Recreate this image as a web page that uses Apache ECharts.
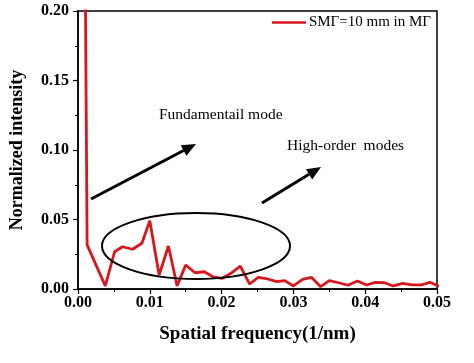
<!DOCTYPE html>
<html>
<head>
<meta charset="utf-8">
<script src="https://cdn.jsdelivr.net/npm/echarts@6/dist/echarts.min.js"></script>
<style>
    html, body { margin: 0; padding: 0; background: #fff; }
    #main { width: 474px; height: 363px; }
</style>
</head>
<body>
<div id="main"></div>
<script>
// values
var seriesName = 'SMΓ=10 mm in MΓ';
var freq = [0, 0.00127, 0.0038, 0.0051, 0.0062, 0.0076, 0.0089, 0.0100, 0.0113, 0.0126,
    0.0138, 0.0150, 0.0163, 0.0176, 0.0188, 0.0201, 0.0213, 0.0226, 0.0239, 0.0251,
    0.0264, 0.0277, 0.0288, 0.0300, 0.0313, 0.0325, 0.0338, 0.0350, 0.0363, 0.0376,
    0.0389, 0.0402, 0.0414, 0.0427, 0.0439, 0.0452, 0.0465, 0.0478, 0.0490, 0.0503];
var intensity = [1.0, 0.0317, 0.0022, 0.0268, 0.0304, 0.0286, 0.0329, 0.0491, 0.0101, 0.0309,
    0.0022, 0.0173, 0.0117, 0.0124, 0.0088, 0.0077, 0.0113, 0.0165, 0.0036, 0.0084,
    0.0072, 0.0053, 0.0060, 0.0022, 0.0070, 0.0084, 0.0017, 0.0060, 0.0045, 0.0027,
    0.0058, 0.0029, 0.0048, 0.0045, 0.0022, 0.0041, 0.0029, 0.0029, 0.0048, 0.0020];
var xTicks = ['0.00', '0.01', '0.02', '0.03', '0.04', '0.05'];
var yTicks = ['0.00', '0.05', '0.10', '0.15', '0.20'];

var serif = 'Liberation Serif';

// 箭头 (直线 + 三角形头)
function arrow(x1, y1, x2, y2) {
    var dx = x2 - x1, dy = y2 - y1;
    var len = Math.sqrt(dx * dx + dy * dy);
    var ux = dx / len, uy = dy / len;
    var hl = 14, hw = 6;
    var bx = x2 - ux * hl, by = y2 - uy * hl;
    return [{
        type: 'line',
        shape: {x1: x1, y1: y1, x2: bx, y2: by},
        style: {stroke: '#000', lineWidth: 3},
        z: 10
    }, {
        type: 'polygon',
        shape: {points: [[x2, y2], [bx - uy * hw, by + ux * hw], [bx + uy * hw, by - ux * hw]]},
        style: {fill: '#000'},
        z: 10
    }];
}

var data = [];
for (var i = 0; i < freq.length; i++) {
    data.push([freq[i], intensity[i]]);
}

var chart = echarts.init(document.getElementById('main'));
var option = {
    animation: false,
    grid: {
        left: 76, right: 37, top: 11, bottom: 74,
        show: true, borderColor: '#000', borderWidth: 1.5
    },
    legend: {
        right: 38, top: 10,
        itemWidth: 34, itemHeight: 16, itemGap: 4,
        icon: 'path://M0,7 L34,7 L34,9.5 L0,9.5 Z',
        textStyle: {fontFamily: serif, fontSize: 15, color: '#000', padding: [0, 0, 0, -2]},
        data: [seriesName]
    },
    xAxis: {
        type: 'value',
        min: 0, max: 0.05, interval: 0.01,
        name: 'Spatial frequency(1/nm)',
        nameLocation: 'middle', nameGap: 36,
        nameTextStyle: {fontFamily: serif, fontWeight: 'bold', fontSize: 19, color: '#000'},
        axisLine: {lineStyle: {color: '#000', width: 1.5}},
        axisTick: {inside: false, length: 5, lineStyle: {color: '#000', width: 1.2}},
        minorTick: {show: true, splitNumber: 2, length: 3, lineStyle: {color: '#000', width: 1}},
        splitLine: {show: false},
        axisLabel: {
            fontFamily: serif, fontWeight: 'bold', fontSize: 16, color: '#000', margin: 6,
            formatter: function (v) { return xTicks[Math.round(v / 0.01)]; }
        }
    },
    yAxis: {
        type: 'value',
        min: 0, max: 0.2, interval: 0.05,
        name: 'Normalized intensity',
        nameLocation: 'middle', nameGap: 52,
        nameTextStyle: {fontFamily: serif, fontWeight: 'bold', fontSize: 18, color: '#000'},
        axisLine: {show: true, lineStyle: {color: '#000', width: 1.5}},
        axisTick: {show: true, inside: false, length: 5, lineStyle: {color: '#000', width: 1.2}},
        minorTick: {show: true, splitNumber: 2, length: 3, lineStyle: {color: '#000', width: 1}},
        splitLine: {show: false},
        axisLabel: {
            fontFamily: serif, fontWeight: 'bold', fontSize: 16, color: '#000', margin: 9,
            formatter: function (v) { return yTicks[Math.round(v / 0.05)]; }
        }
    },
    series: [{
        name: seriesName,
        type: 'line',
        data: data,
        symbol: 'none',
        clip: true,
        lineStyle: {color: '#d9161c', width: 2.8},
        itemStyle: {color: '#d9161c'}
    }],
    graphic: [].concat(
        arrow(91, 199, 196, 144),
        arrow(262, 203, 321, 167),
        [{
            type: 'ellipse',
            shape: {cx: 196, cy: 246, rx: 94, ry: 33},
            style: {fill: 'none', stroke: '#000', lineWidth: 2},
            z: 10
        }, {
            type: 'text',
            left: 159, top: 107,
            style: {text: 'Fundamentail mode', font: '15.5px "Liberation Serif"', fill: '#000'},
            z: 10
        }, {
            type: 'text',
            left: 287, top: 138,
            style: {text: 'High-order  modes', font: '15.5px "Liberation Serif"', fill: '#000'},
            z: 10
        }]
    )
};
chart.setOption(option);
</script>
</body>
</html>
